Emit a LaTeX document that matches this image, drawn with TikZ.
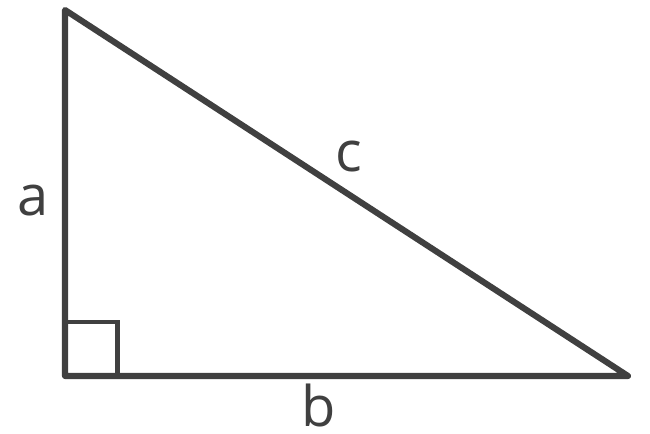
\documentclass[tikz,border=0pt]{standalone}
\usepackage{fontspec}
\setmainfont{Open Sans}
\definecolor{ink}{HTML}{404040}
\begin{document}
\begin{tikzpicture}[x=0.75pt,y=-0.75pt,
  edge/.style={draw=ink,line width=4.6pt,line join=round,line cap=round},
  mark90/.style={draw=ink,line width=3.6pt},
  lbl/.style={text=ink,inner sep=0pt,font=\fontsize{42}{50}\selectfont}]
\useasboundingbox (0,0) rectangle (650,434);
\coordinate (A) at (65,10);
\coordinate (C) at (65,376);
\coordinate (B) at (628,376);
\coordinate (Q) at (117.5,322);
\draw[mark90] (C |- Q) -- (Q) -- (Q |- C);
\draw[edge] (A) -- (C) -- (B) -- cycle;
\node[lbl] (la) at (33,201) {a};
\node[lbl] (lb) at (319,406) {b};
\node[lbl] (lc) at (348.5,157) {c};
\end{tikzpicture}
\end{document}
